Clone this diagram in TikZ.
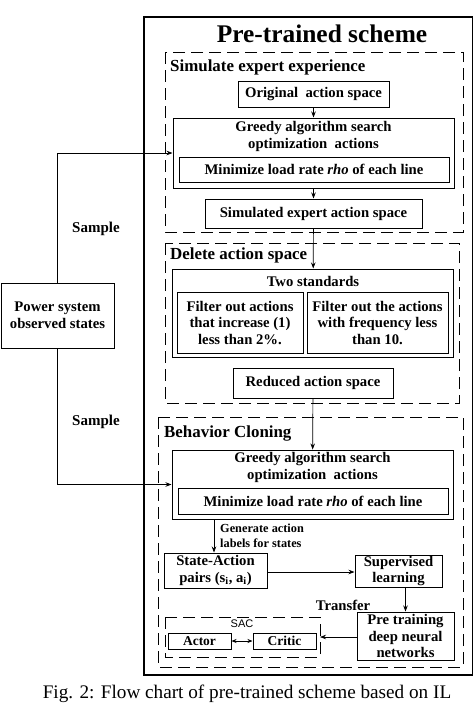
\documentclass[tikz,border=0pt]{standalone}
\usepackage{fontspec}
\setmainfont{Liberation Serif}
\setsansfont{Liberation Sans}
\usetikzlibrary{arrows.meta}
\tikzset{
  box/.style={draw, line width=1pt, inner sep=0pt, align=center, font=\fontsize{14.7}{16.5}\selectfont\bfseries},
  dbox/.style={draw, line width=1pt, dash pattern=on 12pt off 6pt},
  arr/.style={-{Stealth[length=6pt,width=4.5pt]}, line width=0.7pt},
  lbl/.style={inner sep=0pt, font=\fontsize{16.9}{19}\selectfont\bfseries},
  txt/.style={inner sep=0pt, align=center, font=\fontsize{14.7}{16.5}\selectfont\bfseries}
}
\begin{document}
\begin{tikzpicture}[x=1pt,y=-1pt]
\useasboundingbox (0,0) rectangle (474,705);
% outer frame
\draw[line width=1.6pt] (144,17) rectangle (472.5,675);
\node[inner sep=0pt, font=\fontsize{25.4}{28}\selectfont\bfseries] (title) at (322,34) {Pre-trained scheme};
% dashed group 1
\draw[dbox] (165,52) rectangle (463,232);
\node[lbl, anchor=west] (l1) at (170,67) {Simulate expert experience};
\node[box, minimum width=151pt, minimum height=26pt] (orig) at (313.5,94) {Original\ \ action space};
\node[box, minimum width=281pt, minimum height=70pt] (g1) at (313.5,153) {};
\node[txt] (g1t) at (313.5,136.5) {Greedy algorithm search\\optimization\ \ actions};
\node[box, minimum width=270pt, minimum height=25pt] (m1) at (314,169.5) {Minimize load rate \textit{rho} of each line};
\node[box, minimum width=217pt, minimum height=29pt] (sim) at (313.5,213.5) {Simulated expert action space};
% dashed group 2
\draw[dbox] (165,243) rectangle (459,403);
\node[lbl, anchor=west] (l2) at (170,255) {Delete action space};
\node[box, minimum width=281pt, minimum height=88pt] (two) at (313,313) {};
\node[txt] (twot) at (313,281.5) {Two standards};
\node[box, minimum width=126pt, minimum height=61pt] (fl) at (240,322.5) {Filter out actions\\that increase (1)\\less than 2\%.};
\node[box, minimum width=141pt, minimum height=61pt] (fr) at (377.5,322.5) {Filter out the actions\\with frequency less\\than 10.};
\node[box, minimum width=160pt, minimum height=30pt] (red) at (313,383) {Reduced action space};
% dashed group 3
\draw[dbox] (158,417) rectangle (463,667);
\node[lbl, anchor=west] (l3) at (164,433) {Behavior Cloning};
\node[box, minimum width=281pt, minimum height=69pt] (g2) at (312.5,484.5) {};
\node[txt] (g2t) at (312.5,467.5) {Greedy algorithm search\\optimization\ \ actions};
\node[box, minimum width=270pt, minimum height=26pt] (m2) at (313,501) {Minimize load rate \textit{rho} of each line};
\node[box, minimum width=103pt, minimum height=35pt] (sa) at (215.5,570.5) {State-Action\\pairs (s\textsubscript{i}, a\textsubscript{i})};
\node[box, minimum width=87pt, minimum height=32pt] (sup) at (398.5,571) {Supervised\\learning};
\node[box, minimum width=97pt, minimum height=48pt] (pre) at (405.5,636) {Pre training\\deep neural\\networks};
\draw[dbox] (165,617) rectangle (320,657);
\coordinate (sacr) at (320,637);
\node[inner sep=0pt, font=\sffamily\fontsize{11}{13}\selectfont] (sac) at (242,624) {SAC};
\node[box, font=\fontsize{13.5}{15}\selectfont\bfseries, minimum width=63pt, minimum height=16pt] (actor) at (199.5,641) {Actor};
\node[box, font=\fontsize{13.5}{15}\selectfont\bfseries, minimum width=63pt, minimum height=16pt] (critic) at (284.5,641) {Critic};
\node[txt] (transfer) at (343,605) {Transfer};
\node[txt, align=left, anchor=west, font=\fontsize{12.3}{15}\selectfont\bfseries] (gen) at (220,535.5) {Generate action\\labels for states};
% left
\node[box, minimum width=113pt, minimum height=65pt] (pw) at (57.5,315.5) {Power system\\observed states};
\node[txt, font=\fontsize{15}{17}\selectfont\bfseries] (s1) at (96,229) {Sample};
\node[txt, font=\fontsize{15}{17}\selectfont\bfseries] (s2) at (96,422) {Sample};
% connectors
\draw[arr] (orig) -- (g1);
\draw[arr] (g1) -- (sim);
\draw[arr] (sim) -- (two);
\draw[arr] (red) -- (g2);
\draw[arr] (g2.south -| 214,0) -- (sa.north -| 214,0);
\draw[arr] (sa.east |- 0,572) -- (sup.west |- 0,572);
\draw[arr] (sup.south -| pre.north) -- (pre.north);
\draw[arr] (pre.west |- sacr) -- (sacr);
\draw[{Stealth[length=5pt,width=4pt]}-{Stealth[length=5pt,width=4pt]}, line width=0.7pt] (actor) -- (critic);
\draw[arr] (pw.north) |- (g1.west);
\draw[arr] (pw.south) |- (g2.west);
% caption
\node[inner sep=0pt, font=\fontsize{19.2}{22}\selectfont] (cap) at (247,694) {Fig. 2: Flow chart of pre-trained scheme based on IL};
\end{tikzpicture}
\end{document}
